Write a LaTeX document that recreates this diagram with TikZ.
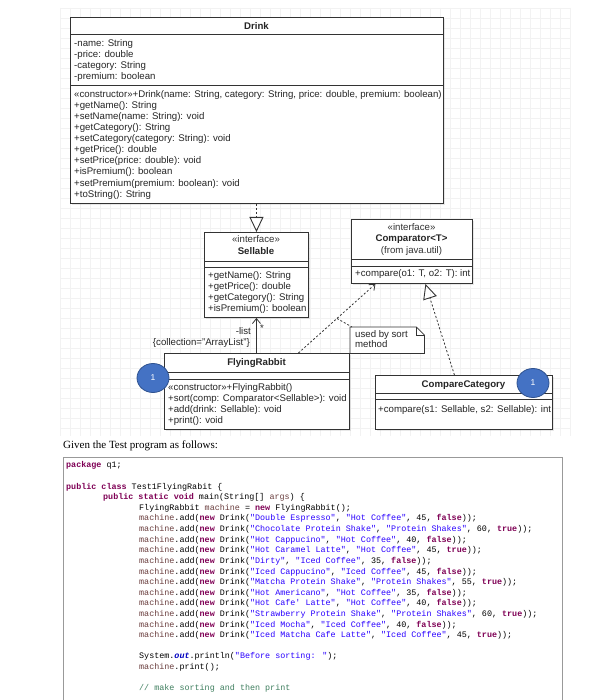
\documentclass[tikz,border=0pt]{standalone}
\usepackage{fontspec}
\setmainfont{Liberation Sans}
\newfontfamily\serifF{Liberation Serif}
\newfontfamily\monoF{Liberation Mono}
\usetikzlibrary{arrows.meta,calc,shapes.geometric,shadows}
\definecolor{kwc}{HTML}{7F0055}
\definecolor{strc}{HTML}{2A00FF}
\definecolor{varc}{HTML}{6A3E3E}
\definecolor{comc}{HTML}{3F7F5F}
\definecolor{outc}{HTML}{0000C0}
\definecolor{badgec}{HTML}{4472C4}
\definecolor{badgeline}{HTML}{2F528F}
\definecolor{umlline}{HTML}{333333}
\newcommand\ckw[1]{\textcolor{kwc}{\bfseries #1}}
\newcommand\cst[1]{\textcolor{strc}{#1}}
\newcommand\cvr[1]{\textcolor{varc}{#1}}
\newcommand\ccm[1]{\textcolor{comc}{#1}}
\newcommand\cfld[1]{\textcolor{outc}{\bfseries\itshape #1}}
\tikzset{
  umlbox/.style={draw=umlline, line width=0.9pt, fill=white, anchor=north west, inner sep=0pt,
     drop shadow={opacity=0.18, shadow xshift=1.5pt, shadow yshift=-1.5pt}},
  sepline/.style={draw=umlline, line width=0.9pt},
  txt/.style={anchor=base west, inner sep=0pt, text=black!85, font=\fontsize{9.65}{11}\selectfont},
  ttl/.style={anchor=base, inner sep=0pt, text=black!85, font=\fontsize{9.65}{11}\selectfont\bfseries},
  ctr/.style={anchor=base, inner sep=0pt, text=black!80, font=\fontsize{9.65}{11}\selectfont},
  code/.style={anchor=base west, inner sep=0pt, font=\monoF\fontsize{8.4}{10}\selectfont},
  dashy/.style={dash pattern=on 2pt off 2pt, line width=0.8pt, draw=umlline},
  realize/.style={dashy, -{Triangle[open, length=15pt, width=14pt, line width=0.9pt]}},
  depend/.style={dashy, -{Straight Barb[length=5pt, width=8pt, line width=0.8pt]}},
  assoc/.style={draw=umlline, line width=0.8pt, -{Straight Barb[length=5pt, width=8pt, line width=0.8pt]}},
  badge/.style={ellipse, fill=badgec, draw=badgeline, line width=0.8pt, minimum width=32pt, minimum height=29pt,
     inner sep=0pt, text=white, font=\fontsize{8.5}{9}\selectfont},
}
\begin{document}
\begin{tikzpicture}[x=1pt, y=-1pt]
\useasboundingbox (0,0) rectangle (611,700);
\fill[white] (0,0) rectangle (611,700);
% faint grid
\foreach \gx in {60,70,...,570} \draw[black!5, line width=0.4pt] (\gx,8) -- (\gx,436);
\foreach \gy in {8,18,...,436} \draw[black!5, line width=0.4pt] (60,\gy) -- (570,\gy);

% ---------------- Drink ----------------
\node[umlbox, minimum width=373pt, minimum height=186pt] (drink) at (70,17) {};
\draw[sepline] ($(drink.north west)+(0,17)$) -- ($(drink.north east)+(0,17)$);
\draw[sepline] ($(drink.north west)+(0,68)$) -- ($(drink.north east)+(0,68)$);
\node[ttl] (drinkT) at (256.5,29.5) {Drink};
\foreach \t [count=\i from 0] in {-name: String,-price: double,-category: String,-premium: boolean}
  \node[txt] (da\i) at (74,{46.3+11.2*\i}) {\t};
\foreach \t [count=\i from 0] in {{«constructor»+Drink(name: String, category: String, price: double, premium: boolean)},
  +getName(): String,+setName(name: String): void,+getCategory(): String,+setCategory(category: String): void,
  +getPrice(): double,+setPrice(price: double): void,+isPremium(): boolean,+setPremium(premium: boolean): void,
  +toString(): String}
  \node[txt] (dm\i) at (74,{97.3+11.1*\i}) {\t};

% ---------------- Sellable ----------------
\node[umlbox, minimum width=104pt, minimum height=85pt] (sell) at (204,232) {};
\draw[sepline] ($(sell.north west)+(0,29)$) -- ($(sell.north east)+(0,29)$);
\draw[sepline] ($(sell.north west)+(0,35)$) -- ($(sell.north east)+(0,35)$);
\node[ctr] (sellS) at (256,242.3) {«interface»};
\node[ttl] (sellT) at (256,254.3) {Sellable};
\foreach \t [count=\i from 0] in {+getName(): String,+getPrice(): double,+getCategory(): String,+isPremium(): boolean}
  \node[txt] (sm\i) at (208,{278.3+11*\i}) {\t};

% ---------------- Comparator ----------------
\node[umlbox, minimum width=121pt, minimum height=64pt] (comp) at (351,219) {};
\draw[sepline] ($(comp.north west)+(0,40)$) -- ($(comp.north east)+(0,40)$);
\draw[sepline] ($(comp.north west)+(0,47)$) -- ($(comp.north east)+(0,47)$);
\node[ctr] (compS) at (411.5,230.3) {«interface»};
\node[ttl] (compT) at (411.5,241.5) {Comparator<T>};
\node[ctr] (compF) at (411.5,253.3) {(from java.util)};
\node[txt] (cm0) at (355,276.3) {+compare(o1: T, o2: T): int};

% ---------------- FlyingRabbit ----------------
\node[umlbox, minimum width=185pt, minimum height=76pt] (fr) at (164,353) {};
\draw[sepline] ($(fr.north west)+(0,19)$) -- ($(fr.north east)+(0,19)$);
\draw[sepline] ($(fr.north west)+(0,26)$) -- ($(fr.north east)+(0,26)$);
\node[ttl] (frT) at (256.5,365.3) {FlyingRabbit};
\foreach \t [count=\i from 0] in {«constructor»+FlyingRabbit(),+sort(comp: Comparator<Sellable>): void,
  +add(drink: Sellable): void,+print(): void}
  \node[txt] (fm\i) at (168,{390.3+11*\i}) {\t};

% ---------------- CompareCategory ----------------
\node[umlbox, minimum width=177pt, minimum height=54pt] (cc) at (375,375) {};
\draw[sepline] ($(cc.north west)+(0,18)$) -- ($(cc.north east)+(0,18)$);
\draw[sepline] ($(cc.north west)+(0,24)$) -- ($(cc.north east)+(0,24)$);
\node[ttl] (ccT) at (463.5,387.3) {CompareCategory};
\node[txt] (ccm0) at (378,412.3) {+compare(s1: Sellable, s2: Sellable): int};

% ---------------- note ----------------
\node[minimum width=74pt, minimum height=26pt, anchor=north west, inner sep=0pt] (note) at (350,327) {};
\draw[draw=umlline, line width=0.8pt, fill=white]
  (note.north west) -- ($(note.north east)+(-8,0)$) -- ($(note.north east)+(0,8)$)
  -- (note.south east) -- (note.south west) -- cycle;
\draw[draw=umlline, line width=0.8pt]
  ($(note.north east)+(-8,0)$) -- ($(note.north east)+(-8,8)$) -- ($(note.north east)+(0,8)$);
\node[txt] (n1) at (355,337.3) {used by sort};
\node[txt] (n2) at (355,347.5) {method};

% ---------------- connectors ----------------
\draw[realize] (drink.south -| sell.north) -- (sell.north);
\draw[realize] ($(cc.north)+(-9.5,0)$) -- ($(comp.south)+(13.5,0)$);
\draw[depend] ($(fr.north)+(41.5,0)$) -- coordinate[pos=0.5] (depmid) ($(comp.south)+(-36.5,0)$);
\draw[dashy] (depmid) -- ($(note.north west)+(2,0)$);
\draw[assoc] (fr.north -| sell.south) -- (sell.south);
\node[anchor=base east, inner sep=0pt, text=black!85, font=\fontsize{9.65}{11}\selectfont] (lst) at (251,334.3) {-list};
\node[anchor=base, inner sep=0pt, text=black!85, font=\fontsize{9.65}{11}\selectfont] (star) at (262,331) {*};
\node[anchor=base east, inner sep=0pt, text=black!85, font=\fontsize{9.65}{11}\selectfont] (coll) at (250,345.3) {\{collection="ArrayList"\}};

% badges
\node[badge] (b1) at (153,378) {1};
\node[badge] (b2) at (533,383) {1};

% ---------------- text below ----------------
\node[anchor=base west, inner sep=0pt, font=\serifF\fontsize{11}{13}\selectfont] (given) at (63,448.5) {Given the Test program as follows:};
\node[draw=black!40, line width=1.1pt, anchor=north west, minimum width=499pt, minimum height=260pt, inner sep=0pt] (codebox) at (63,457) {};

\node[code] (c0) at (66,{467.8+10.62*0}) {\ckw{package} q1;};
\node[code] (c2) at (66,{467.8+10.62*2}) {\ckw{public} \ckw{class} Test1FlyingRabit \{};
\node[code] (c3) at (103,{467.8+10.62*3}) {\ckw{public} \ckw{static} \ckw{void} main(String[] \cvr{args}) \{};
\node[code] (c4) at (139,{467.8+10.62*4}) {FlyingRabbit \cvr{machine} = \ckw{new} FlyingRabbit();};
\node[code] (c5) at (139,{467.8+10.62*5}) {\cvr{machine}.add(\ckw{new} Drink(\cst{"Double Espresso"}, \cst{"Hot Coffee"}, 45, \ckw{false}));};
\node[code] (c6) at (139,{467.8+10.62*6}) {\cvr{machine}.add(\ckw{new} Drink(\cst{"Chocolate Protein Shake"}, \cst{"Protein Shakes"}, 60, \ckw{true}));};
\node[code] (c7) at (139,{467.8+10.62*7}) {\cvr{machine}.add(\ckw{new} Drink(\cst{"Hot Cappucino"}, \cst{"Hot Coffee"}, 40, \ckw{false}));};
\node[code] (c8) at (139,{467.8+10.62*8}) {\cvr{machine}.add(\ckw{new} Drink(\cst{"Hot Caramel Latte"}, \cst{"Hot Coffee"}, 45, \ckw{true}));};
\node[code] (c9) at (139,{467.8+10.62*9}) {\cvr{machine}.add(\ckw{new} Drink(\cst{"Dirty"}, \cst{"Iced Coffee"}, 35, \ckw{false}));};
\node[code] (c10) at (139,{467.8+10.62*10}) {\cvr{machine}.add(\ckw{new} Drink(\cst{"Iced Cappucino"}, \cst{"Iced Coffee"}, 45, \ckw{false}));};
\node[code] (c11) at (139,{467.8+10.62*11}) {\cvr{machine}.add(\ckw{new} Drink(\cst{"Matcha Protein Shake"}, \cst{"Protein Shakes"}, 55, \ckw{true}));};
\node[code] (c12) at (139,{467.8+10.62*12}) {\cvr{machine}.add(\ckw{new} Drink(\cst{"Hot Americano"}, \cst{"Hot Coffee"}, 35, \ckw{false}));};
\node[code] (c13) at (139,{467.8+10.62*13}) {\cvr{machine}.add(\ckw{new} Drink(\cst{"Hot Cafe' Latte"}, \cst{"Hot Coffee"}, 40, \ckw{false}));};
\node[code] (c14) at (139,{467.8+10.62*14}) {\cvr{machine}.add(\ckw{new} Drink(\cst{"Strawberry Protein Shake"}, \cst{"Protein Shakes"}, 60, \ckw{true}));};
\node[code] (c15) at (139,{467.8+10.62*15}) {\cvr{machine}.add(\ckw{new} Drink(\cst{"Iced Mocha"}, \cst{"Iced Coffee"}, 40, \ckw{false}));};
\node[code] (c16) at (139,{467.8+10.62*16}) {\cvr{machine}.add(\ckw{new} Drink(\cst{"Iced Matcha Cafe Latte"}, \cst{"Iced Coffee"}, 45, \ckw{true}));};
\node[code] (c18) at (139,{467.8+10.62*18}) {System.\cfld{out}.println(\cst{"Before sorting: "});};
\node[code] (c19) at (139,{467.8+10.62*19}) {\cvr{machine}.print();};
\node[code] (c21) at (139,{467.8+10.62*21}) {\ccm{// make sorting and then print}};
\end{tikzpicture}
\end{document}
